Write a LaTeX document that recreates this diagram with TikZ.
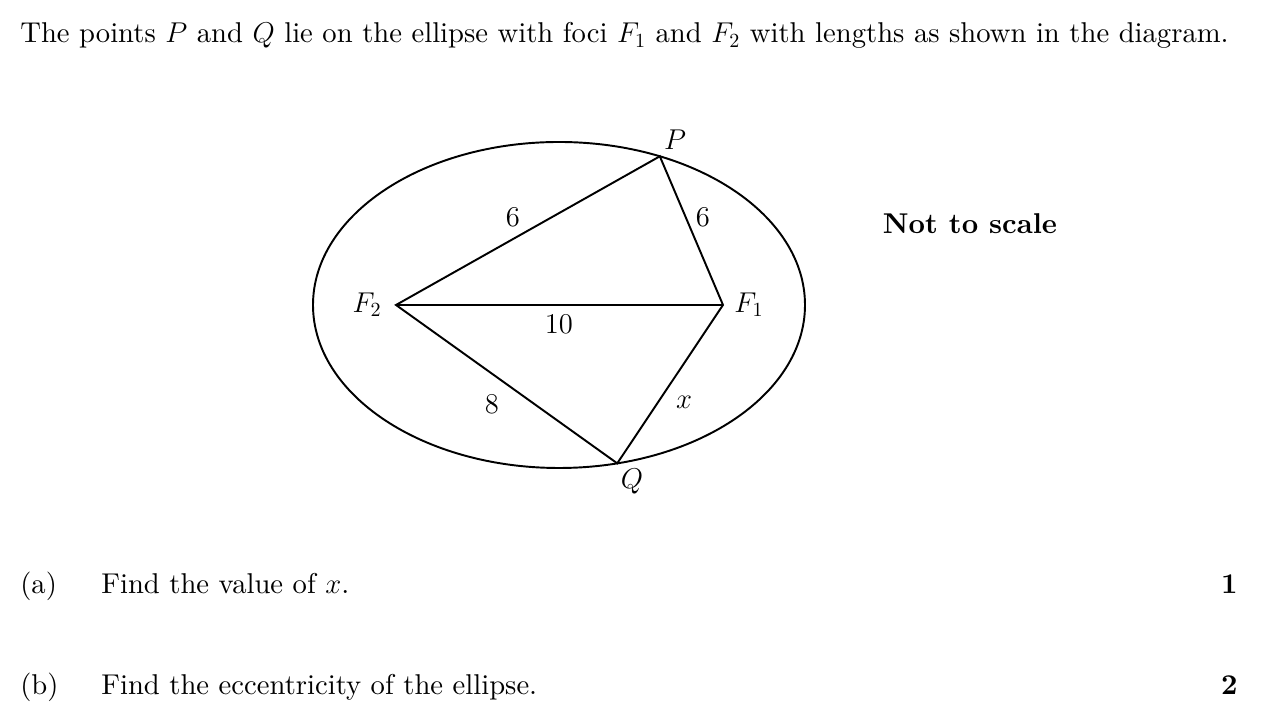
\documentclass[tikz,border=0pt]{standalone}
\usepackage{fix-cm}
\usepackage{amsmath,amssymb}
\usepackage{fontspec}
\setmainfont{lmroman10-regular.otf}[BoldFont=lmroman10-bold.otf,ItalicFont=lmroman10-italic.otf,BoldItalicFont=lmroman10-bolditalic.otf]
\usepackage{tikz}
\usetikzlibrary{positioning}
\tikzset{>=stealth}
\tikzset{%
    curve/.style={line width=1.1pt},
    lbl/.style={inner sep=0pt}
}

\begin{document}
\begin{tikzpicture}[font=\fontsize{16.3}{19.6}\selectfont]
    \useasboundingbox (0,0) rectangle (25.68,14.44);
    \node[anchor=base west,lbl] (title) at (0.4,13.58) {The points $P$ and $Q$ lie on the ellipse with foci $F_1$ and $F_2$ with lengths as shown in the diagram.};

    % ellipse and the two foci
    \coordinate (O) at (11.18,8.34);
    \coordinate (F2) at (7.92,8.34);
    \coordinate (F1) at (14.46,8.34);
    \path (O) ++(65.8:4.92 and 3.26) coordinate (P);
    \path (O) ++(-76.3:4.92 and 3.26) coordinate (Q);
    \draw[curve] (O) ellipse [x radius=4.92, y radius=3.26];

    \draw[curve] (F2) -- (P) -- (F1) -- (Q) -- cycle;
    \draw[curve] (F2) -- (F1);

    \node[lbl] (Plbl) at (13.5,11.64) {$P$};
    \node[lbl] (Qlbl) at (12.64,4.8) {$Q$};
    \node[lbl,left=0.28 of F2] (F2lbl) {$F_2$};
    \node[lbl,right=0.22 of F1] (F1lbl) {$F_1$};
    \node[lbl] (a) at (10.26,10.1) {$6$};
    \node[lbl] (b) at (14.06,10.1) {$6$};
    \node[lbl] (c) at (11.18,7.96) {$10$};
    \node[lbl] (d) at (9.84,6.36) {$8$};
    \node[lbl] (e) at (13.68,6.4) {$x$};
    \node[lbl] (scale) at (19.4,9.96) {\bfseries Not to scale};

    % the two parts
    \node[anchor=base west,lbl] (pa) at (0.4,2.56) {(a)};
    \node[anchor=base west,lbl] (qa) at (2.02,2.56) {Find the value of $x$.};
    \node[anchor=base east,lbl] (ma) at (24.76,2.56) {\bfseries 1};
    \node[anchor=base west,lbl] (pb) at (0.4,0.54) {(b)};
    \node[anchor=base west,lbl] (qb) at (2.02,0.54) {Find the eccentricity of the ellipse.};
    \node[anchor=base east,lbl] (mb) at (24.76,0.54) {\bfseries 2};
\end{tikzpicture}
\end{document}
